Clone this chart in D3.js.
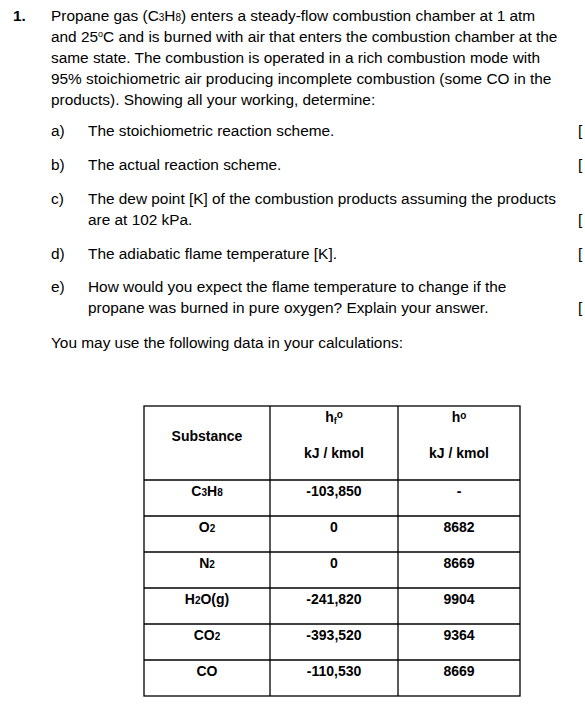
<!DOCTYPE html><html><head><meta charset="utf-8">
<script src="https://cdn.jsdelivr.net/npm/d3@7"></script>
<style>body{margin:0;background:#fff}svg{display:block}text{font-family:"Liberation Sans",Arial,sans-serif;fill:#000}</style>
</head><body><script>
const substances=[["C","3","H","8"],["O","2"],["N","2"],["H","2","O(g)"],["CO","2"],["CO"]];
const hf=["-103,850","0","0","-241,820","-393,520","-110,530"];
const h0=["-","8682","8669","9904","9364","8669"];
const introLines=["","","same state. The combustion is operated in a rich combustion mode with","95% stoichiometric air producing incomplete combustion (some CO in the","products). Showing all your working, determine:"];
const items=[["a)",["The stoichiometric reaction scheme."],136],["b)",["The actual reaction scheme."],170],["c)",["The dew point [K] of the combustion products assuming the products","are at 102 kPa."],204],["d)",["The adiabatic flame temperature [K]."],259],["e)",["How would you expect the flame temperature to change if the","propane was burned in pure oxygen? Explain your answer."],292]];
const FS=15.4;
const svg=d3.select("body").append("svg").attr("width",585).attr("height",717);
svg.append("text").attr("x",13).attr("y",21).attr("font-size",FS).attr("font-weight","bold").text("1.");
introLines.forEach((l,i)=>{const t=svg.append("text").attr("x",51).attr("y",21+i*21).attr("font-size",FS);
 if(i===0){t.append("tspan").text("Propane gas (C");t.append("tspan").attr("font-size",10).text("3");t.append("tspan").text("H");t.append("tspan").attr("font-size",10).text("8");t.append("tspan").text(") enters a steady-flow combustion chamber at 1 atm");}
 else if(i===1){t.append("tspan").text("and 25");t.append("tspan").attr("font-size",9).attr("dy",-5).text("o");t.append("tspan").attr("dy",5).text("C and is burned with air that enters the combustion chamber at the");}
 else t.text(l);});
items.forEach((it,k)=>{svg.append("text").attr("x",51).attr("y",it[2]).attr("font-size",FS).text(it[0]);
 it[1].forEach((l,j)=>svg.append("text").attr("x",88).attr("y",it[2]+j*21).attr("font-size",FS).text(l));
 svg.append("text").attr("x",578).attr("y",it[2]+(it[1].length-1)*21).attr("font-size",FS).text("[");});
svg.append("text").attr("x",51).attr("y",348).attr("font-size",FS).text("You may use the following data in your calculations:");
const y=d3.scaleBand().domain(d3.range(substances.length)).range([480,696]);
const g=svg.append("g");
g.append("rect").attr("x",144).attr("y",406).attr("width",376).attr("height",290).attr("fill","none").attr("stroke","#000").attr("stroke-width",1.3);
[270,398].forEach(v=>g.append("line").attr("x1",v).attr("x2",v).attr("y1",406).attr("y2",696).attr("stroke","#000").attr("stroke-width",1.3));
d3.range(substances.length).map(i=>y(i)).forEach(v=>g.append("line").attr("x1",144).attr("x2",520).attr("y1",v).attr("y2",v).attr("stroke","#000").attr("stroke-width",1.3));
const bt=(cx,cy)=>g.append("text").attr("x",cx).attr("y",cy).attr("text-anchor","middle").attr("font-size",14).attr("font-weight","bold");
bt(207,441).text("Substance");
let t=bt(334,422);t.append("tspan").text("h");t.append("tspan").attr("font-size",9).attr("dy",2).text("f");t.append("tspan").attr("font-size",10).attr("dy",-6).text("o");
bt(334,458).text("kJ / kmol");
t=bt(459,422);t.append("tspan").text("h");t.append("tspan").attr("font-size",10).attr("dy",-3).text("o");
bt(459,458).text("kJ / kmol");
substances.forEach((s,i)=>{const cy=y(i)+16;const tt=bt(207,cy);
 s.forEach(p=>{tt.append("tspan").attr("font-size",/^\d$/.test(p)?10:14).text(p);});
 bt(334,cy).text(hf[i]);bt(459,cy).text(h0[i]);});
</script></body></html>
